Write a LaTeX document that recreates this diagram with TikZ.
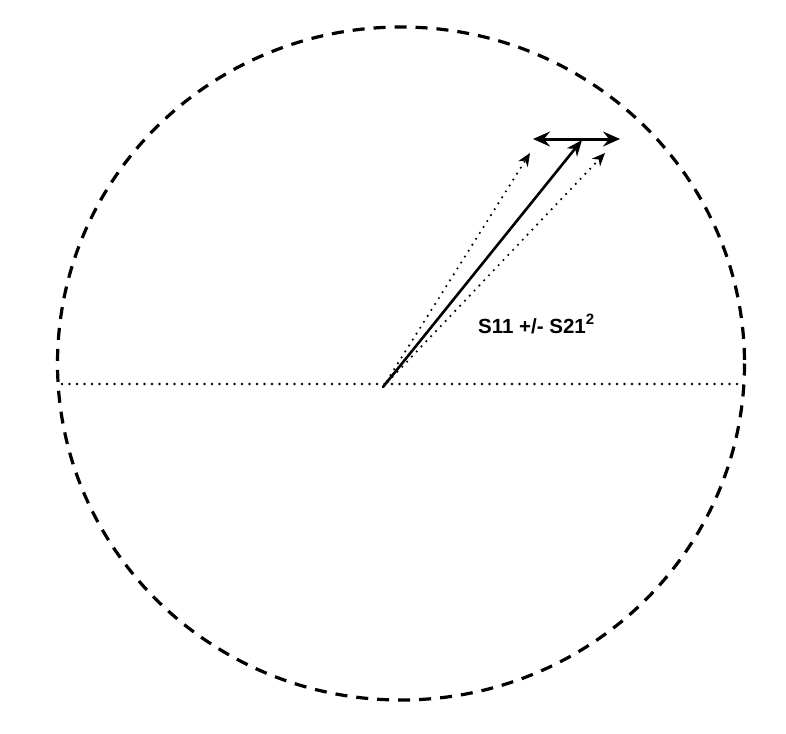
\documentclass[tikz,border=0pt]{standalone}
\usepackage{fontspec}
\setmainfont{Liberation Sans}
\usetikzlibrary{arrows.meta}
\newcommand{\mysup}[1]{\raisebox{0.45em}{\fontsize{15}{17}\selectfont #1}}
\begin{document}
\begin{tikzpicture}[x=1pt,y=-1pt,
  rim/.style={line width=3.2pt, dash pattern=on 12pt off 9pt},
  dotline/.style={line width=2.6pt, line cap=round, dash pattern=on 0pt off 7.5pt},
  mainvec/.style={line width=2.6pt, -{Stealth[length=16pt,width=13pt,inset=5pt]}},
  sidevec/.style={line width=2.4pt, line cap=round, dash pattern=on 0pt off 7pt, -{Stealth[length=13pt,width=11pt,inset=4pt,line cap=butt]}},
  spread/.style={line width=3pt, {Stealth[length=17pt,width=15pt,inset=6pt]}-{Stealth[length=17pt,width=15pt,inset=6pt]}},
  lbl/.style={font=\fontsize{20.5}{24}\selectfont\bfseries, inner sep=0pt}]
\useasboundingbox (0,0) rectangle (786,733);
\node[draw=none, inner sep=0pt] (ctr) at (401,363.5) {};
\draw[rim] (ctr) ellipse [x radius=343.5, y radius=336.5];
\coordinate (hl) at (62,384);
\coordinate (hr) at (740,384);
\draw[dotline] (hl) -- (hr);
\coordinate (o) at (383,387);
\coordinate (tm) at (582,140);
\coordinate (tl) at (530,153);
\coordinate (tr) at (605,153);
\coordinate (dl) at (533,139);
\coordinate (dr) at (620,139);
\draw[sidevec] (o) -- (tl);
\draw[sidevec] (o) -- (tr);
\draw[mainvec] (o) -- (tm);
\draw[spread] (dl) -- (dr);
\node[lbl, anchor=west] (lab) at (478,324) {S11 +/- S21\mysup{2}};
\end{tikzpicture}
\end{document}
